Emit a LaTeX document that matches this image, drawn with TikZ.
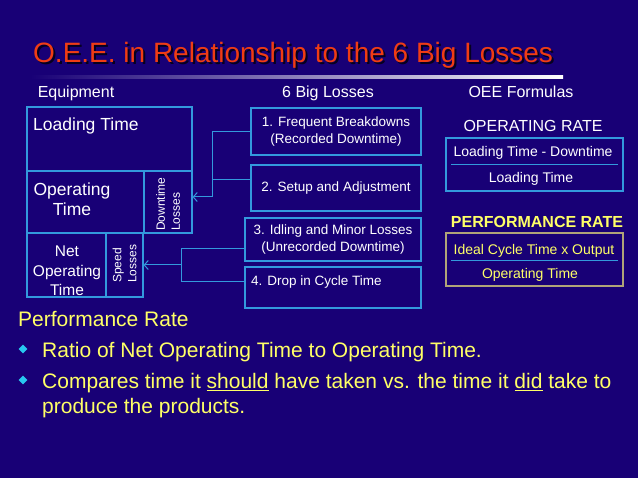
\documentclass[tikz,border=0pt]{standalone}
\usepackage{fontspec}
\setmainfont{Liberation Sans}
\usetikzlibrary{positioning, arrows.meta, shapes.geometric}

\definecolor{slidebg}{RGB}{24,0,118}
\definecolor{boxline}{RGB}{51,153,221}
\definecolor{titlered}{RGB}{240,60,20}
\definecolor{softyellow}{RGB}{255,255,102}
\definecolor{tanline}{RGB}{176,164,120}
\definecolor{bulletcyan}{RGB}{40,200,240}

\begin{document}
\begin{tikzpicture}[x=1pt, y=-1pt, >={Straight Barb[length=4pt,width=9pt]},
  box/.style={draw=boxline, line width=1.2pt, inner sep=0pt, text=white},
  link/.style={draw=boxline, line width=1pt},
  bigtext/.style={text=white, inner sep=0pt, font=\fontsize{17.5}{20}\selectfont},
  midtext/.style={text=white, inner sep=0pt, font=\fontsize{15.5}{19.5}\selectfont},
  sidetext/.style={text=white, inner sep=0pt, rotate=90, anchor=west, align=left, font=\fontsize{12}{15}\selectfont},
  losstext/.style={font=\fontsize{13.5}{17.5}\selectfont, align=center},
  header/.style={text=white, inner sep=0pt, anchor=base, font=\fontsize{16}{19}\selectfont},
  formula/.style={inner sep=0pt, font=\fontsize{14}{17}\selectfont},
  bottomtext/.style={text=softyellow, inner sep=0pt, anchor=base west, font=\fontsize{21}{25}\selectfont},
  bullet/.style={diamond, fill=bulletcyan, inner sep=0pt, minimum size=9pt}]

% Background
\fill[slidebg] (0,0) rectangle (638,478);
\useasboundingbox (0,0) rectangle (638,478);

% Title
\node[anchor=base west, inner sep=0pt, text=black!75!slidebg, font=\fontsize{28}{34}\selectfont] (titleshadow) at (35,65) {O.E.E. in Relationship to the 6 Big Losses};
\node[anchor=base west, inner sep=0pt, text=titlered, font=\fontsize{28}{34}\selectfont] (title) at (33,63) {O.E.E. in Relationship to the 6 Big Losses};
\shade[left color=slidebg, right color=white] (30,75.5) rectangle (563,78.5);

% Column headers
\node[header] (hequip) at (76,98) {Equipment};
\node[header] (hloss) at (328,98) {6 Big Losses};
\node[header] (hoee) at (521,98) {OEE Formulas};

% Equipment blocks
\node[box, minimum width=165pt, minimum height=64pt] (load) at (109.5,139) {};
\node[bigtext, anchor=west] (loadtxt) at (33,126) {Loading Time};
\node[box, minimum width=117pt, minimum height=62pt] (oper) at (85.5,202) {};
\node[bigtext, align=center] (opertxt) at (72,199) {Operating\\Time};
\node[box, minimum width=48pt, minimum height=62pt] (down) at (168,202) {};
\node[sidetext] (downtxt) at (168,231) {Downtime\\Losses};
\node[box, minimum width=79pt, minimum height=64pt] (net) at (66.5,265) {};
\node[midtext, align=center] (nettxt) at (67,271) {Net\\Operating\\Time};
\node[box, minimum width=37pt, minimum height=64pt] (speed) at (124.5,265) {};
\node[sidetext] (speedtxt) at (124.5,283) {Speed\\Losses};

% The big losses
\node[box, losstext, minimum width=170pt, minimum height=47pt] (loss1) at (336,131.5) {1. Frequent Breakdowns\\(Recorded Downtime)};
\node[box, losstext, minimum width=170pt, minimum height=46pt] (loss2) at (336,188) {2. Setup and Adjustment};
\node[box, losstext, minimum width=176pt, minimum height=43pt] (loss3) at (333,239.5) {3. Idling and Minor Losses\\(Unrecorded Downtime)};
\node[box, minimum width=176pt, minimum height=41pt] (loss4) at (333,287.5) {};
\node[losstext, text=white, inner sep=0pt, anchor=west] (loss4txt) at (251,282) {4. Drop in Cycle Time};

% Connectors
\coordinate (j1) at (212,197);
\coordinate (j2) at (212,180);
\draw[link, ->] (loss1.west) -| (j1) -- (j1 -| down.east);
\draw[link] (j2 -| loss2.west) -- (j2);
\coordinate (k1) at (181,249);
\coordinate (k2) at (181,282);
\coordinate (k3) at (181,265);
\draw[link] (k1 -| loss3.west) -- (k1) -- (k2) -- (k2 -| loss4.west);
\draw[link, ->] (k3) -- (speed.east);

% Operating rate
\node[text=white, inner sep=0pt, font=\fontsize{16}{19}\selectfont] (oprate) at (533,126) {OPERATING RATE};
\node[box, minimum width=177pt, minimum height=53pt] (orbox) at (534.5,164.5) {};
\node[formula, text=white] (ornum) at (533,153) {Loading Time - Downtime};
\node[formula, text=white] (orden) at (531,179) {Loading Time};
\draw[link] ([xshift=6pt]orbox.west) -- ([xshift=-6pt]orbox.east);

% Performance rate
\node[text=softyellow, inner sep=0pt, font=\bfseries\fontsize{16}{19}\selectfont] (perfrate) at (537,222) {PERFORMANCE RATE};
\node[box, draw=tanline, minimum width=177pt, minimum height=53pt] (prbox) at (534.5,259.5) {};
\node[formula, text=softyellow] (prnum) at (534,251) {Ideal Cycle Time x Output};
\node[formula, text=softyellow] (prden) at (530,275) {Operating Time};
\draw[link] ([xshift=6pt,yshift=-1.5pt]prbox.west) -- ([xshift=-6pt,yshift=-1.5pt]prbox.east);

% Bottom text
\node[bottomtext] (perf) at (18,327) {Performance Rate};
\node[bullet] (bul1) at (23,349) {};
\node[bottomtext] (ratio) at (42,358) {Ratio of Net Operating Time to Operating Time.};
\node[bullet] (bul2) at (23,380) {};
\node[bottomtext] (comp) at (42,389) {Compares time it \underline{should} have taken vs. the time it \underline{did} take to};
\node[bottomtext] (comp2) at (42,414) {produce the products.};

\end{tikzpicture}
\end{document}
